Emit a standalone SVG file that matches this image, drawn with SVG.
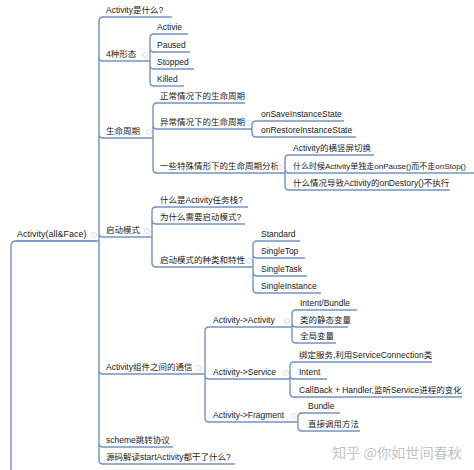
<svg xmlns="http://www.w3.org/2000/svg" width="474" height="470" viewBox="0 0 474 470">
<style>
.c{fill:none;stroke:#7393c4;stroke-width:1.4;stroke-linecap:round}
.u{fill:none;stroke:#7393c4;stroke-width:1.4}
.t{font-family:"Liberation Sans","Noto Sans CJK SC",sans-serif;font-size:8.5px;fill:#222}
.r{font-size:9px}
.s{font-size:8px}
.k{fill:#fff;stroke:#d0d6e0;stroke-width:0.8}
.wm{font-family:"Noto Sans CJK SC","Liberation Sans",sans-serif;font-size:14px;fill:#c4c4c4}
</style>
<rect width="474" height="470" fill="#fff"/>
<g id="connectors">
<path class="c" d="M95,241 H16 Q11,241 11,246 V470"/>
<path class="c" d="M95,241 H99 M103,17 Q99,17 99,21 V460 Q99,464 103,464 M99,57 Q99,61 103,61 M99,134 Q99,138 103,138 M99,233 Q99,237 103,237 M99,370 Q99,374 103,374 M99,443 Q99,447 103,447"/>
<path class="c" d="M146,61 H150 M154,34 Q150,34 150,38 V82 Q150,86 154,86 M150,48 Q150,52 154,52 M150,65 Q150,69 154,69"/>
<path class="c" d="M148,138 H153 M157,103 Q153,103 153,107 V169 Q153,173 157,173 M153,125 Q153,129 157,129"/>
<path class="c" d="M245,129 H252 M256,121 Q252,121 252,125 V133 Q252,137 256,137"/>
<path class="c" d="M281,173 H285 M289,155 Q285,155 285,159 V186 Q285,190 289,190 M285,169 Q285,173 289,173"/>
<path class="c" d="M148,237 H152 M156,207 Q152,207 152,211 V263 Q152,267 156,267 M152,220 Q152,224 156,224"/>
<path class="c" d="M250,267 H253 M257,241 Q253,241 253,245 V289 Q253,293 257,293 M253,254 Q253,258 257,258 M253,272 Q253,276 257,276"/>
<path class="c" d="M197,374 H205 M209,327 Q205,327 205,331 V418 Q205,422 209,422 M205,375 Q205,379 209,379"/>
<path class="c" d="M286,327 H292 M296,310 Q292,310 292,314 V339 Q292,343 296,343 M292,323 Q292,327 296,327"/>
<path class="c" d="M284,379 H290 M294,362 Q290,362 290,366 V393 Q290,397 294,397 M290,375 Q290,379 294,379"/>
<path class="c" d="M292,422 H298 M302,413 Q298,413 298,417 V427 Q298,431 302,431"/>
</g>
<g id="root"><line class="u" x1="16" y1="241" x2="95" y2="241"/><text class="t r" x="17" y="237">Activity(all&amp;Face)</text><circle class="k" cx="94" cy="235" r="2.5"/></g>
<g id="n1"><line class="u" x1="103" y1="17" x2="172" y2="17"/><text class="t" x="106" y="13">Activity是什么?</text></g>
<g id="n2"><line class="u" x1="103" y1="61" x2="146" y2="61"/><text class="t" x="106" y="57">4种形态</text><circle class="k" cx="145" cy="55" r="2.5"/></g>
<g id="n2a"><line class="u" x1="154" y1="34" x2="188" y2="34"/><text class="t" x="157" y="30">Activie</text></g>
<g id="n2b"><line class="u" x1="154" y1="52" x2="190" y2="52"/><text class="t" x="157" y="48">Paused</text></g>
<g id="n2c"><line class="u" x1="154" y1="69" x2="194" y2="69"/><text class="t" x="157" y="65">Stopped</text></g>
<g id="n2d"><line class="u" x1="154" y1="86" x2="184" y2="86"/><text class="t" x="157" y="82">Killed</text></g>
<g id="n3"><line class="u" x1="103" y1="138" x2="148" y2="138"/><text class="t" x="106" y="134">生命周期</text><circle class="k" cx="149" cy="132" r="2.5"/></g>
<g id="n3a"><line class="u" x1="157" y1="103" x2="245" y2="103"/><text class="t" x="160" y="99">正常情况下的生命周期</text></g>
<g id="n3b"><line class="u" x1="157" y1="129" x2="245" y2="129"/><text class="t" x="160" y="125">异常情况下的生命周期</text><circle class="k" cx="248" cy="123" r="2.5"/></g>
<g id="n3b1"><line class="u" x1="256" y1="121" x2="344" y2="121"/><text class="t" x="261" y="117">onSaveInstanceState</text></g>
<g id="n3b2"><line class="u" x1="256" y1="137" x2="356" y2="137"/><text class="t" x="261" y="133">onRestoreInstanceState</text></g>
<g id="n3c"><line class="u" x1="157" y1="173" x2="281" y2="173"/><text class="t" x="160" y="169">一些特殊情形下的生命周期分析</text><circle class="k" cx="280" cy="167" r="2.5"/></g>
<g id="n3c1"><line class="u" x1="289" y1="155" x2="374" y2="155"/><text class="t" x="293" y="151">Activity的横竖屏切换</text></g>
<g id="n3c2"><line class="u" x1="289" y1="173" x2="474" y2="173"/><text class="t s" x="293" y="169">什么时候Activity单独走onPause()而不走onStop()</text></g>
<g id="n3c3"><line class="u" x1="289" y1="190" x2="450" y2="190"/><text class="t" x="293" y="186">什么情况导致Activity的onDestory()不执行</text></g>
<g id="n4"><line class="u" x1="103" y1="237" x2="148" y2="237"/><text class="t" x="106" y="233">启动模式</text><circle class="k" cx="147" cy="231" r="2.5"/></g>
<g id="n4a"><line class="u" x1="156" y1="207" x2="248" y2="207"/><text class="t" x="160" y="203">什么是Activity任务栈?</text></g>
<g id="n4b"><line class="u" x1="156" y1="224" x2="245" y2="224"/><text class="t" x="160" y="220">为什么需要启动模式?</text></g>
<g id="n4c"><line class="u" x1="156" y1="267" x2="250" y2="267"/><text class="t" x="160" y="263">启动模式的种类和特性</text><circle class="k" cx="249" cy="261" r="2.5"/></g>
<g id="n4c1"><line class="u" x1="257" y1="241" x2="300" y2="241"/><text class="t" x="261" y="237">Standard</text></g>
<g id="n4c2"><line class="u" x1="257" y1="258" x2="305" y2="258"/><text class="t" x="261" y="254">SingleTop</text></g>
<g id="n4c3"><line class="u" x1="257" y1="276" x2="307" y2="276"/><text class="t" x="261" y="272">SingleTask</text></g>
<g id="n4c4"><line class="u" x1="257" y1="293" x2="321" y2="293"/><text class="t" x="261" y="289">SingleInstance</text></g>
<g id="n5"><line class="u" x1="103" y1="374" x2="197" y2="374"/><text class="t" x="106" y="370">Activity组件之间的通信</text><circle class="k" cx="199" cy="368" r="2.5"/></g>
<g id="n5a"><line class="u" x1="209" y1="327" x2="286" y2="327"/><text class="t" x="213" y="323">Activity-&gt;Activity</text><circle class="k" cx="287" cy="321" r="2.5"/></g>
<g id="n5a1"><line class="u" x1="296" y1="310" x2="357" y2="310"/><text class="t" x="300" y="306">Intent/Bundle</text></g>
<g id="n5a2"><line class="u" x1="296" y1="327" x2="348" y2="327"/><text class="t" x="300" y="323">类的静态变量</text></g>
<g id="n5a3"><line class="u" x1="296" y1="343" x2="336" y2="343"/><text class="t" x="300" y="339">全局变量</text></g>
<g id="n5b"><line class="u" x1="209" y1="379" x2="284" y2="379"/><text class="t" x="213" y="375">Activity-&gt;Service</text><circle class="k" cx="286" cy="373" r="2.5"/></g>
<g id="n5b1"><line class="u" x1="294" y1="362" x2="432" y2="362"/><text class="t" x="299" y="358">绑定服务,利用ServiceConnection类</text></g>
<g id="n5b2"><line class="u" x1="294" y1="379" x2="327" y2="379"/><text class="t" x="299" y="375">Intent</text></g>
<g id="n5b3"><line class="u" x1="294" y1="397" x2="462" y2="397"/><text class="t" x="299" y="393">CallBack + Handler,监听Service进程的变化</text></g>
<g id="n5c"><line class="u" x1="209" y1="422" x2="292" y2="422"/><text class="t" x="213" y="418">Activity-&gt;Fragment</text><circle class="k" cx="294" cy="416" r="2.5"/></g>
<g id="n5c1"><line class="u" x1="302" y1="413" x2="340" y2="413"/><text class="t" x="308" y="409">Bundle</text></g>
<g id="n5c2"><line class="u" x1="302" y1="431" x2="360" y2="431"/><text class="t" x="308" y="427">直接调用方法</text></g>
<g id="n6"><line class="u" x1="103" y1="447" x2="173" y2="447"/><text class="t" x="106" y="443">scheme跳转协议</text></g>
<g id="n7"><line class="u" x1="103" y1="464" x2="235" y2="464"/><text class="t" x="106" y="460">源码解读startActivity都干了什么?</text></g>
<text class="wm" x="332" y="458" textLength="130" lengthAdjust="spacingAndGlyphs">知乎 @你如世间春秋</text>
</svg>
